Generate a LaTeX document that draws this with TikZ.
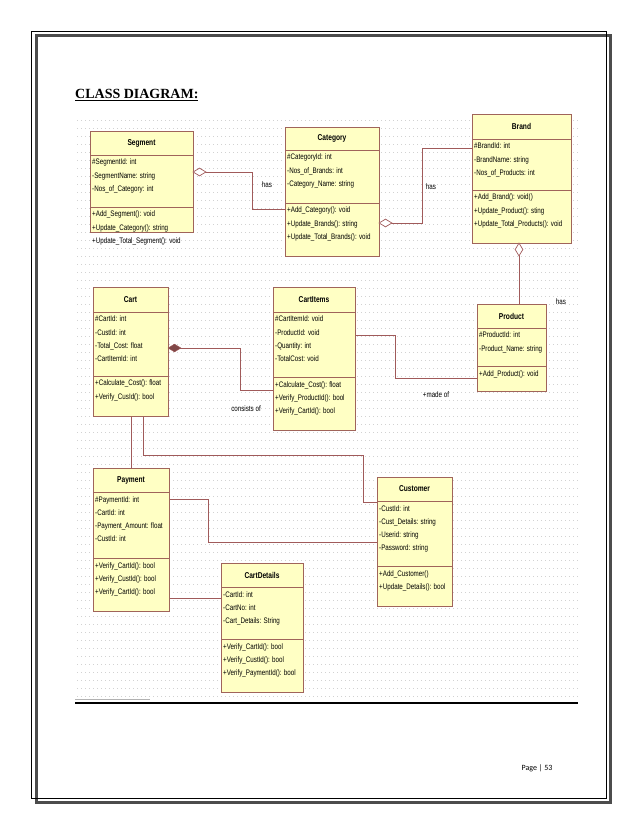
\documentclass[tikz,border=0pt]{standalone}
\usepackage{fontspec}
\setmainfont{Liberation Serif}
\newfontfamily\umlf{Liberation Sans}[FakeStretch=0.78]
\newfontfamily\pgf{Carlito}
\usetikzlibrary{shapes.geometric,calc}
\definecolor{boxfill}{HTML}{FFFFC4}
\definecolor{boxline}{HTML}{A0645A}
\definecolor{conn}{HTML}{A05A5A}
\tikzset{
 box/.style={draw=boxline,fill=boxfill,line width=0.9pt,inner sep=0,anchor=north west},
 ttl/.style={font=\umlf\fontsize{8.5}{9}\selectfont\bfseries,inner sep=0},
 mem/.style={font=\umlf\fontsize{8}{13.2}\selectfont,inner sep=0,anchor=north west,align=left},
 con/.style={draw=conn,line width=0.8pt},
 lbl/.style={font=\umlf\fontsize{8}{9}\selectfont,inner sep=0},
 agg/.style={diamond,draw=conn,fill=white,line width=0.7pt,minimum width=13pt,minimum height=8pt,inner sep=0},
 comp/.style={diamond,draw=conn,fill=conn!80!black,minimum width=13pt,minimum height=8pt,inner sep=0}
}
% id x1 y1 x2 yh ya y2 title attrs
\newcommand{\umlbox}[9]{%
 \pgfmathsetmacro{\bw}{#4-#2}\pgfmathsetmacro{\bh}{#7-#3}%
 \node[box,minimum width=\bw pt,minimum height=\bh pt] (#1) at (#2,#3) {};
 \draw[boxline,line width=0.9pt] (#2,#5) -- (#4,#5) (#2,#6) -- (#4,#6);
 \node[ttl] (#1-t) at ($(#2,#3)!0.5!(#4,#5)$) {#8};
 \node[mem] (#1-a) at (#2+2,#5+4) {#9};
}
\begin{document}
\begin{tikzpicture}[x=1pt,y=-1pt]
\useasboundingbox (0,0) rectangle (638,826);
% page frame
\draw[line width=3pt,black!70] (36,36) rectangle (610,802);
\draw[line width=0.6pt] (31,31) rectangle (606,798);
\node[anchor=south west,inner sep=0,font=\fontsize{14}{16}\selectfont\bfseries] (title) at (75,101) {\underline{CLASS DIAGRAM:}};
% grid
\foreach \yy in {120,128,...,696} \draw[gray!35,line width=0.4pt,dash pattern=on 0.6pt off 3.4pt] (77,\yy) -- (578,\yy);
\draw[line width=1.5pt] (75,703) -- (578,703);
\draw[gray!60,line width=1pt] (75,699) -- (150,699);
\node[font=\pgf\fontsize{8}{9}\selectfont,inner sep=0] (pg) at (537,768) {Page | 53};

% connectors
\draw[con] (193,172) -- (252,172) -- (252,209) -- (285,209);
\draw[con] (379,223) -- (422,223) -- (422,148) -- (472,148);
\draw[con] (519,243) -- (519,304);
\draw[con] (168,348) -- (240,348) -- (240,390) -- (273,390);
\draw[con] (354,335) -- (395,335) -- (395,378) -- (477,378);
\draw[con] (131,416) -- (131,468);
\draw[con] (143,416) -- (143,455) -- (363,455) -- (363,502) -- (377,502);
\draw[con] (169,499) -- (208,499) -- (208,542) -- (377,542);
\draw[con] (169,598) -- (221,598);

\umlbox{seg}{90}{131}{193}{155}{207}{232}{Segment}{\#SegmentId: int\\-SegmentName: string\\-Nos\_of\_Category: int}
\node[mem] (seg-o) at (92,211) {+Add\_Segment(): void\\+Update\_Category(): string\\+Update\_Total\_Segment(): void};
\umlbox{cat}{285}{127}{379}{150}{203}{256}{Category}{\#CategoryId: int\\-Nos\_of\_Brands: int\\-Category\_Name: string}
\node[mem] (cat-o) at (287,207) {+Add\_Category(): void\\+Update\_Brands(): string\\+Update\_Total\_Brands(): void};
\umlbox{brand}{472}{114}{571}{139}{190}{243}{Brand}{\#BrandId: int\\-BrandName: string\\-Nos\_of\_Products: int}
\node[mem] (brand-o) at (474,194) {+Add\_Brand(): void()\\+Update\_Product(): sting\\+Update\_Total\_Products(): void};
\umlbox{cart}{93}{287}{168}{312}{376}{416}{Cart}{\#CartId: int\\-CustId: int\\-Total\_Cost: float\\-CartItemId: int}
\node[mem] (cart-o) at (95,380) {+Calculate\_Cost(): float\\+Verify\_CusId(): bool};
\umlbox{ci}{273}{287}{355}{312}{377}{430}{CartItems}{\#CartItemId: void\\-ProductId: void\\-Quantity: int\\-TotalCost: void}
\node[mem] (ci-o) at (275,381) {+Calculate\_Cost(): float\\+Verify\_ProductId(): bool\\+Verify\_CartId(): bool};
\umlbox{prod}{477}{304}{546}{328}{366}{391}{Product}{\#ProductId: int\\-Product\_Name: string}
\node[mem] (prod-o) at (479,371) {+Add\_Product(): void};
\umlbox{pay}{93}{468}{169}{492}{558}{611}{Payment}{\#PaymentId: int\\-CartId: int\\-Payment\_Amount: float\\-CustId: int}
\node[mem] (pay-o) at (95,562) {+Verify\_CartId(): bool\\+Verify\_CustId(): bool\\+Verify\_CartId(): bool};
\umlbox{cust}{377}{477}{452}{501}{566}{606}{Customer}{-CustId: int\\-Cust\_Details: string\\-Userid: string\\-Password: string}
\node[mem] (cust-o) at (379,570) {+Add\_Customer()\\+Update\_Details(): bool};
\umlbox{cd}{221}{563}{303}{587}{639}{692}{CartDetails}{-CartId: int\\-CartNo: int\\-Cart\_Details: String}
\node[mem] (cd-o) at (223,643) {+Verify\_CartId(): bool\\+Verify\_CustId(): bool\\+Verify\_PaymentId(): bool};

\node[agg] (d1) at (199.5,172) {};
\node[agg] (d2) at (385.5,223) {};
\node[agg,minimum width=8pt,minimum height=13pt] (d3) at (519,249.5) {};
\node[comp] (d4) at (174.5,348) {};
\node[lbl] (l1) at (267,185) {has};
\node[lbl] (l2) at (431,187) {has};
\node[lbl] (l3) at (561,302) {has};
\node[lbl] (l4) at (246,409) {consists of};
\node[lbl] (l5) at (436,395) {+made of};
\end{tikzpicture}
\end{document}
